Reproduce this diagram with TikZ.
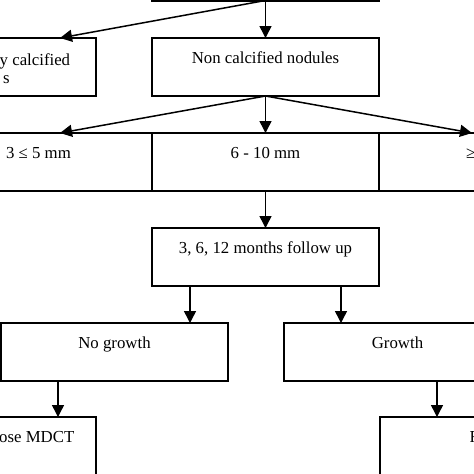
\documentclass[tikz,border=0pt]{standalone}
\usepackage{fontspec}
\setmainfont{Liberation Serif}
\usetikzlibrary{arrows.meta}
\begin{document}
\begin{tikzpicture}[x=1pt, y=-1pt, font=\fontsize{16.8}{18}\selectfont,
  box/.style={draw, line width=1.5pt, inner sep=0pt, outer sep=0pt,
    minimum width=227pt, text height=25pt, text depth=33pt},
  arr/.style={line width=1.5pt, -{Triangle[length=12pt,width=12pt]}},
  frag/.style={inner sep=0pt, anchor=base west}]
%% view is a 474 x 474 window of a larger chart
\useasboundingbox (0,0) rectangle (474,474);
\clip (0,0) rectangle (474,474);
%% --- boxes ---
\node[box, anchor=south, line width=2pt] (top) at (265.5,1.2) {};
\node[box, anchor=north east] (calc)    at (96,38)    {};
\node[box, anchor=north]      (noncalc) at (265.5,38) {Non calcified nodules};

\node[box, anchor=north east] (small) at (152,133)   {3 ≤ 5 mm};
\node[box, anchor=north]      (mid)   at (265.5,133) {6 - 10 mm};
\node[box, anchor=north west] (big)   at (379,133)   {};

\node[box, anchor=north]      (fu)     at (265.5,228) {3, 6, 12 months follow up};
\node[box, anchor=north west] (nogrow) at (1,323)     {No growth};
\node[box, anchor=north west] (grow)   at (284,323)   {Growth};

\node[box, anchor=north east, text depth=37pt] (low) at (96,417)  {};
\node[box, anchor=north west, text depth=37pt] (rt)  at (380,417) {};

%% --- cut-off texts ---
\node[frag] (calcA) at (-0.5,65)  {y calcified};
\node[frag] (calcB) at (3,83)     {s};
\node[frag] (bigA)  at (466,158)  {≥};
\node[frag] (lowA)  at (-1,442)   {ose MDCT};
\node[frag] (rtA)   at (469.5,442) {F};

%% --- arrows ---
\draw[arr] (top.south) -- (noncalc.north);
\draw[arr] ([xshift=-4pt]top.south) -- ([xshift=77.5pt]calc.north);
\foreach \t/\s in {small/21.5, mid/0, big/-20.5}{
  \draw[arr] (noncalc.south) -- ([xshift=\s pt]\t.north);
}
\draw[arr] (mid.south) -- (fu.north);
\draw[arr] ([xshift=-75.5pt]fu.south) -- ([xshift=-75.5pt]fu.south |- nogrow.north);
\draw[arr] ([xshift=75.5pt]fu.south) -- ([xshift=75.5pt]fu.south |- grow.north);
\draw[arr] ([xshift=-56.5pt]nogrow.south) -- ([xshift=-56.5pt]nogrow.south |- low.north);
\draw[arr] ([xshift=39.5pt]grow.south) -- ([xshift=39.5pt]grow.south |- rt.north);
\end{tikzpicture}
\end{document}
